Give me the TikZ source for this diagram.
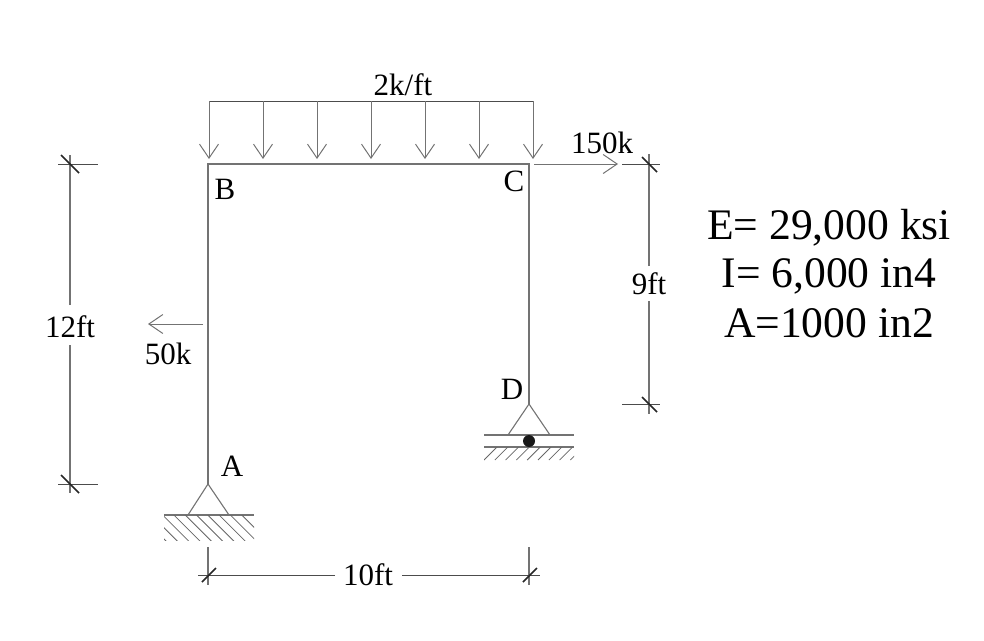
\documentclass[tikz,border=0pt]{standalone}
\usepackage{fontspec}
\setmainfont{Liberation Serif}
\usetikzlibrary{arrows.meta}
\definecolor{linegray}{gray}{0.45}
\tikzstyle{member} = [draw=linegray, line width=1.1pt]
\tikzstyle{thinline} = [draw=black!70, line width=0.9pt]
\tikzstyle{loadarrow} = [draw=linegray, line width=1pt, -{Straight Barb[length=14pt, width=19pt, line width=1pt]}]
\tikzstyle{tick} = [draw=black!85, line width=1.5pt]
\tikzstyle{hatch} = [draw=black!60, line width=0.8pt]
\tikzstyle{label} = [inner sep=0pt, font=\fontsize{31pt}{31pt}\selectfont]
\tikzstyle{props} = [inner sep=0pt, font=\fontsize{43.6pt}{44pt}\selectfont]

\begin{document}
\begin{tikzpicture}[x=1pt, y=-1pt]
                \useasboundingbox (0,0) rectangle (984,640);
                % frame
                \coordinate (pinA) at (208,484);
                \coordinate (jointB) at (208,164);
                \coordinate (jointC) at (529,164);
                \coordinate (pinD) at (529,404);
                \draw [member] (pinA) -- (jointB) -- (jointC) -- (pinD);
                % support at A
                \coordinate (baseAl) at (188,515);
                \coordinate (baseAr) at (229,515);
                \coordinate (groundAl) at (164,515);
                \coordinate (groundAr) at (254,515);
                \draw [member] (baseAl) -- (pinA) -- (baseAr);
                \draw [member] (groundAl) -- (groundAr);
                \begin{scope}
                    \clip (164,515) rectangle (254,540);
                    \foreach \x in {0,...,9} {
                        \draw [hatch] (140+\x*11.3,515) -- ++(33,33);
                    }
                \end{scope}
                % support at D
                \coordinate (baseDl) at (508,435);
                \coordinate (baseDr) at (550,435);
                \coordinate (groundDl) at (484,435);
                \coordinate (groundDr) at (574,435);
                \coordinate (floorDl) at (484,447);
                \coordinate (floorDr) at (574,447);
                \draw [member] (baseDl) -- (pinD) -- (baseDr);
                \draw [member] (groundDl) -- (groundDr);
                \draw [member] (floorDl) -- (floorDr);
                \fill [black!90] (529,441) circle (6);
                \begin{scope}
                    \clip (484,447) rectangle (574,460);
                    \foreach \x in {0,...,8} {
                        \draw [hatch] (484+\x*10.8,460) -- ++(16,-16);
                    }
                \end{scope}
                % distributed load
                \coordinate (loadL) at (209,101);
                \coordinate (loadR) at (533,101);
                \draw [thinline] (loadL) -- (loadR);
                \foreach \i in {0,...,6} {
                    \coordinate (loadtop\i) at (209+\i*54,101);
                    \coordinate (loadend\i) at (209+\i*54,159);
                    \draw [loadarrow] (loadtop\i) -- (loadend\i);
                }
                \node [label] (load) at (403,85) {2k/ft};
                % point loads
                \coordinate (pushS) at (534,164);
                \coordinate (pushE) at (618,164);
                \draw [loadarrow] (pushS) -- (pushE);
                \node [label] (push) at (602,143) {150k};
                \coordinate (pullS) at (203,324);
                \coordinate (pullE) at (148,324);
                \draw [loadarrow] (pullS) -- (pullE);
                \node [label] (pull) at (168,354) {50k};
                % joint names
                \node [label] (nameA) at (232,466) {A};
                \node [label] (nameB) at (225,189) {B};
                \node [label] (nameC) at (514,181) {C};
                \node [label] (nameD) at (512,389) {D};
                % 12ft
                \node [label] (dimLeft) at (70,327) {12ft};
                \coordinate (leftTop) at (70,155);
                \coordinate (leftBot) at (70,493);
                \draw [member] (dimLeft) ++(0,-22) -- (leftTop);
                \draw [member] (dimLeft) ++(0,18) -- (leftBot);
                \draw [thinline] (58,164) -- (98,164);
                \draw [thinline] (58,484) -- (98,484);
                \draw [tick] (61,155) -- (79,173);
                \draw [tick] (61,475) -- (79,493);
                % 9ft
                \node [label] (dimRight) at (649,284) {9ft};
                \coordinate (rightTop) at (649,154);
                \coordinate (rightBot) at (649,414);
                \draw [member] (dimRight) ++(0,-18) -- (rightTop);
                \draw [member] (dimRight) ++(0,17) -- (rightBot);
                \draw [thinline] (622,164) -- (660,164);
                \draw [thinline] (622,404) -- (660,404);
                \draw [tick] (642,157) -- (657,172);
                \draw [tick] (642,397) -- (657,412);
                % 10ft
                \node [label] (dimBottom) at (368,575) {10ft};
                \coordinate (botLeft) at (198,575);
                \coordinate (botRight) at (540,575);
                \draw [thinline] (dimBottom) ++(-33,0) -- (botLeft);
                \draw [thinline] (dimBottom) ++(34,0) -- (botRight);
                \draw [member] (208,547) -- (208,585);
                \draw [member] (529,547) -- (529,585);
                \draw [tick] (202,582) -- (216,568);
                \draw [tick] (523,582) -- (537,568);
                % section properties
                \node [props] (modulus) at (829,228) {E= 29,000 ksi};
                \node [props] (inertia) at (829,276) {I= 6,000 in4};
                \node [props] (area) at (829,323) {A=1000 in2};
            \end{tikzpicture}
\end{document}
